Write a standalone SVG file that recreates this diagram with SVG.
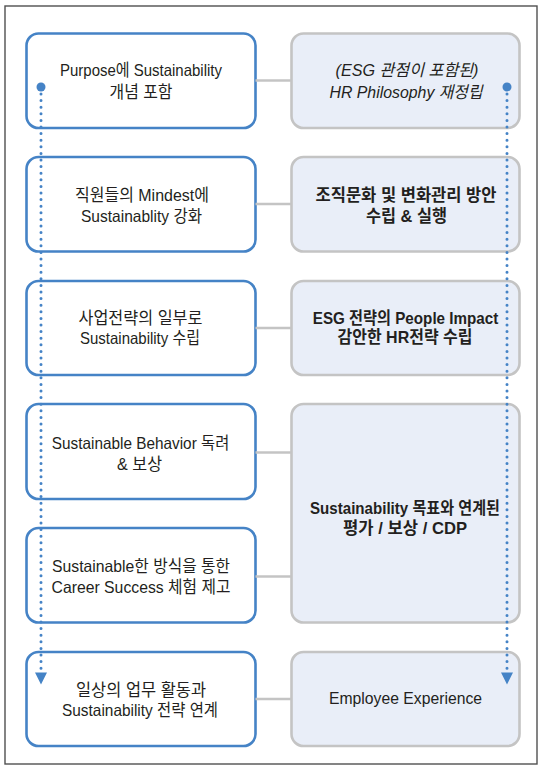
<svg xmlns="http://www.w3.org/2000/svg" width="545" height="771" viewBox="0 0 545 771">
  <defs>
    <style>
      .frame { fill: #ffffff; stroke: #505050; stroke-width: 1.4; }
      .lbox { fill: #ffffff; stroke: #4583c6; stroke-width: 2.6; }
      .rbox { fill: #e9eef8; stroke: #c4c4c4; stroke-width: 2.6; }
      .link { stroke: #c4c4c4; stroke-width: 2.4; fill: none; }
      .dots { stroke: #4583c6; stroke-width: 3; stroke-linecap: round; stroke-dasharray: 0 6.6; fill: none; }
      .blue { fill: #4583c6; }
      text { font-family: "Liberation Sans", "Noto Sans CJK KR", sans-serif; font-size: 16.5px; fill: #231f20; text-anchor: middle; }
      .b { font-weight: bold; }
      .i { font-style: italic; }
    </style>
  </defs>
  <rect class="frame" x="5" y="6" width="532" height="758"/>

  <g id="node-l1">
    <rect class="lbox" x="26.5" y="33.5" width="229" height="94.5" rx="12"/>
    <text x="141" y="76" textLength="162" lengthAdjust="spacingAndGlyphs">Purpose에 Sustainability</text>
    <text x="141" y="98" textLength="63" lengthAdjust="spacingAndGlyphs">개념 포함</text>
  </g>
  <g id="node-r1">
    <rect class="rbox" x="291.5" y="33.5" width="228" height="94.5" rx="12"/>
    <text class="i" x="407" y="76" textLength="143" lengthAdjust="spacingAndGlyphs">(ESG 관점이 포함된)</text>
    <text class="i" x="406" y="98" textLength="153" lengthAdjust="spacingAndGlyphs">HR Philosophy 재정립</text>
  </g>

  <g id="node-l2">
    <rect class="lbox" x="26.5" y="157" width="229" height="94.5" rx="12"/>
    <text x="142" y="201" textLength="134" lengthAdjust="spacingAndGlyphs">직원들의 Mindest에</text>
    <text x="141.5" y="221.5" textLength="121" lengthAdjust="spacingAndGlyphs">Sustainablity 강화</text>
  </g>
  <g id="node-r2">
    <rect class="rbox" x="291.5" y="157" width="228" height="94.5" rx="12"/>
    <text class="b" x="406" y="201" textLength="181" lengthAdjust="spacingAndGlyphs">조직문화 및 변화관리 방안</text>
    <text class="b" x="406.5" y="221.5" textLength="81" lengthAdjust="spacingAndGlyphs">수립 &amp; 실행</text>
  </g>

  <g id="node-l3">
    <rect class="lbox" x="26.5" y="281" width="229" height="94" rx="12"/>
    <text x="140.5" y="323.5" textLength="124" lengthAdjust="spacingAndGlyphs">사업전략의 일부로</text>
    <text x="140" y="343.5" textLength="120" lengthAdjust="spacingAndGlyphs">Sustainability 수립</text>
  </g>
  <g id="node-r3">
    <rect class="rbox" x="291.5" y="281" width="228" height="94" rx="12"/>
    <text class="b" x="405.5" y="324" textLength="185.5" lengthAdjust="spacingAndGlyphs">ESG 전략의 People Impact</text>
    <text class="b" x="405" y="343" textLength="135" lengthAdjust="spacingAndGlyphs">감안한 HR전략 수립</text>
  </g>

  <g id="node-l4">
    <rect class="lbox" x="26.5" y="404" width="229" height="95" rx="12"/>
    <text x="140.5" y="449" textLength="177.5" lengthAdjust="spacingAndGlyphs">Sustainable Behavior 독려</text>
    <text x="139.5" y="470" textLength="45" lengthAdjust="spacingAndGlyphs">&amp; 보상</text>
  </g>
  <g id="node-l5">
    <rect class="lbox" x="26.5" y="528" width="229" height="94.5" rx="12"/>
    <text x="141" y="572" textLength="178" lengthAdjust="spacingAndGlyphs">Sustainable한 방식을 통한</text>
    <text x="141" y="592.5" textLength="179" lengthAdjust="spacingAndGlyphs">Career Success 체험 제고</text>
  </g>
  <g id="node-r45">
    <rect class="rbox" x="291.5" y="404" width="228" height="218.5" rx="12"/>
    <text class="b" x="405" y="513.5" textLength="190" lengthAdjust="spacingAndGlyphs">Sustainability 목표와 연계된</text>
    <text class="b" x="405" y="534" textLength="124" lengthAdjust="spacingAndGlyphs">평가 / 보상 / CDP</text>
  </g>

  <g id="node-l6">
    <rect class="lbox" x="26.5" y="652" width="229" height="94" rx="12"/>
    <text x="141" y="695.5" textLength="130" lengthAdjust="spacingAndGlyphs">일상의 업무 활동과</text>
    <text x="140" y="716" textLength="156" lengthAdjust="spacingAndGlyphs">Sustainability 전략 연계</text>
  </g>
  <g id="node-r6">
    <rect class="rbox" x="291.5" y="652" width="228" height="94" rx="12"/>
    <text x="405.5" y="704" textLength="153" lengthAdjust="spacingAndGlyphs">Employee Experience</text>
  </g>

  <g id="connectors">
    <line class="link" x1="255.5" y1="80.5" x2="291.5" y2="80.5"/>
    <line class="link" x1="255.5" y1="204" x2="291.5" y2="204"/>
    <line class="link" x1="255.5" y1="328" x2="291.5" y2="328"/>
    <line class="link" x1="255.5" y1="452.5" x2="291.5" y2="452.5"/>
    <line class="link" x1="255.5" y1="576.5" x2="291.5" y2="576.5"/>
    <line class="link" x1="255.5" y1="699" x2="291.5" y2="699"/>
    <circle class="blue" cx="41" cy="87" r="4.5"/>
    <line class="dots" x1="41" y1="94" x2="41" y2="670"/>
    <polygon class="blue" points="35,672.5 47,672.5 41,684.5"/>
    <circle class="blue" cx="507" cy="87" r="4.5"/>
    <line class="dots" x1="507" y1="94" x2="507" y2="670"/>
    <polygon class="blue" points="501,672.5 513,672.5 507,684.5"/>
  </g>
</svg>
